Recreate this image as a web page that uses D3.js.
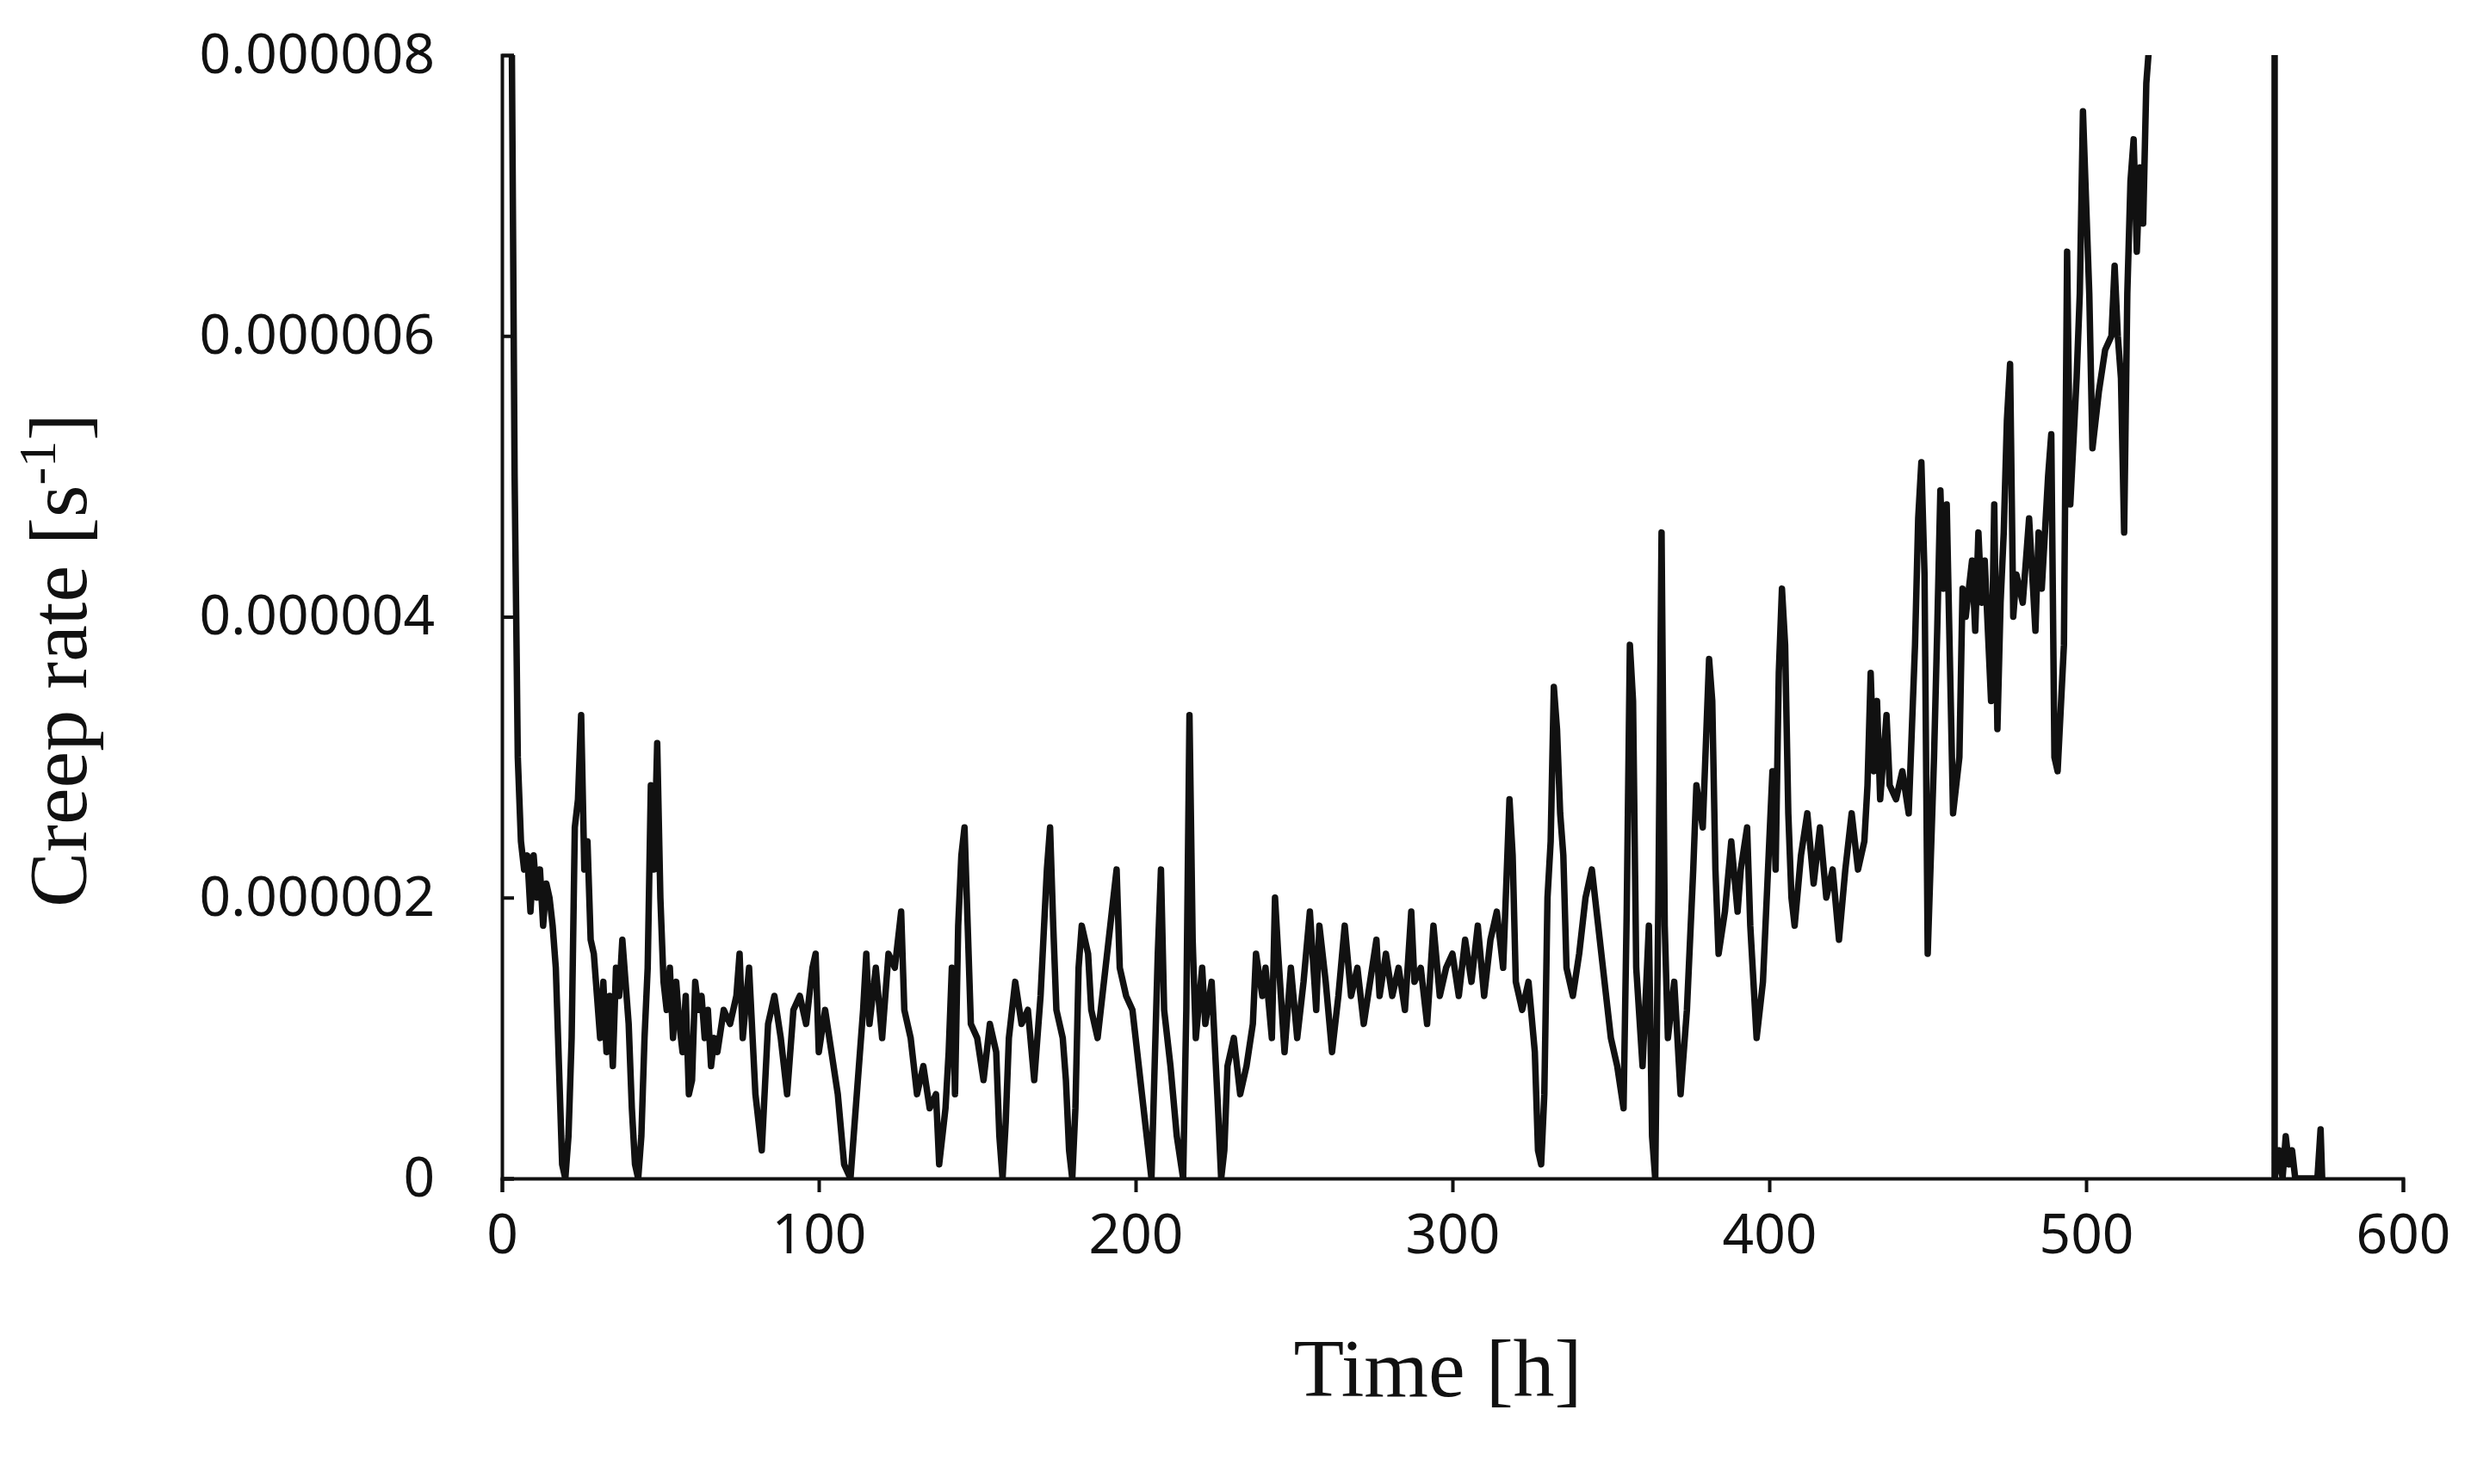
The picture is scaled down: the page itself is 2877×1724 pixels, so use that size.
<!DOCTYPE html>
<html><head><meta charset="utf-8">
<script src="https://cdn.jsdelivr.net/npm/d3@7"></script>
<style>body{margin:0;background:#fff}</style>
</head><body>
<svg id="chart" width="2877" height="1724"></svg>
<script>
// time [h]
const timeMain = [2,3,4,5,6,7,8,9,10,11,12,13,14,15,16,17,18,19,20,21,22,23,24,25,26,27,28,29,30,31,32,33,34,35,36,37,38,39,40,41,42,43,44,45,46,47,48,49,50,51,52,53,54,55,56,57,58,59,60,61,62,63,64,65,66,67,68,70,72,74,75,76,78,80,82,84,86,88,90,92,94,96,98,99,100,102,104,106,108,110,112,114,115,116,118,120,122,124,126,127,129,131,133,135,137,138,140,141,142,143,144,145,146,147,148,150,152,154,156,157,158,159,160,162,164,166,168,170,172,173,174,175,177,178,179,180,181,182,183,185,186,188,190,192,194,195,197,199,201,203,205,206,207,208,209,211,213,215,216,217,218,219,221,222,224,226,227,228,229,231,233,235,237,238,240,241,243,244,245,247,249,251,253,255,257,258,260,262,264,266,268,270,272,274,276,277,279,281,283,285,287,288,290,292,294,296,298,300,302,304,306,308,310,312,314,316,318,319,320,322,324,326,327,328,329,330,331,332,333,334,335,336,338,340,342,344,346,348,350,352,354,355,356,357,358,360,362,363,364,365,366,367,368,370,372,374,376,377,379,381,382,383,384,386,388,390,391,393,394,396,398,400,401,402,403,404,405,406,407,408,410,412,414,416,418,420,422,424,426,428,430,431,432,433,434,435,437,438,440,442,444,446,447,448,449,450,452,453,454,455,456,458,460,461,462,464,465,466,467,468,470,471,472,473,474,475,476,477,478,480,482,484,485,486,488,489,490,491,493,494,495,497,498,499,501,502,504,506,508,509,510,511,512,513,514,515,516,517,518,519,520,521];
// creep rate [1e-6 s^-1]
const rateMain = [8.5,8.5,5,3,2.4,2.2,2.3,1.9,2.3,2.0,2.2,1.8,2.1,2.0,1.8,1.5,0.8,0.1,0,0.3,1.0,2.5,2.7,3.3,2.2,2.4,1.7,1.6,1.3,1.0,1.4,0.9,1.3,0.8,1.5,1.3,1.7,1.4,1.1,0.5,0.1,0,0.3,1.0,1.5,2.8,2.2,3.1,2.0,1.4,1.2,1.5,1.0,1.4,1.1,0.9,1.3,0.6,0.7,1.4,1.2,1.3,1.0,1.2,0.8,1.0,0.9,1.2,1.1,1.3,1.6,1.0,1.5,0.6,0.2,1.1,1.3,1.0,0.6,1.2,1.3,1.1,1.5,1.6,0.9,1.2,0.9,0.6,0.1,0,0.6,1.2,1.6,1.1,1.5,1.0,1.6,1.5,1.9,1.2,1.0,0.6,0.8,0.5,0.6,0.1,0.5,0.9,1.5,0.6,1.8,2.3,2.5,1.8,1.1,1.0,0.7,1.1,0.9,0.3,0,0.4,1.0,1.4,1.1,1.2,0.7,1.3,2.2,2.5,1.8,1.2,1.0,0.7,0.2,0,0.5,1.5,1.8,1.6,1.2,1.0,1.4,1.8,2.2,1.5,1.3,1.2,0.8,0.4,0,0.8,1.6,2.2,1.2,0.8,0.3,0,1.2,3.3,1.7,1.0,1.5,1.1,1.4,0.5,0,0.2,0.8,1.0,0.6,0.8,1.1,1.6,1.3,1.5,1.0,2.0,1.6,0.9,1.5,1.0,1.4,1.9,1.2,1.8,1.4,0.9,1.3,1.8,1.3,1.5,1.1,1.4,1.7,1.3,1.6,1.3,1.5,1.2,1.9,1.4,1.5,1.1,1.8,1.3,1.5,1.6,1.3,1.7,1.4,1.8,1.3,1.7,1.9,1.5,2.7,2.3,1.4,1.2,1.4,0.9,0.2,0.1,0.6,2.0,2.4,3.5,3.2,2.6,2.3,1.5,1.3,1.6,2.0,2.2,1.8,1.4,1.0,0.8,0.5,1.9,3.8,3.4,1.5,0.8,1.8,0.3,0,2.0,4.6,1.8,1.0,1.4,0.6,1.2,2.2,2.8,2.5,3.7,3.4,2.2,1.6,1.9,2.4,1.9,2.2,2.5,1.8,1.0,1.4,2.4,2.9,2.2,3.6,4.2,3.8,2.6,2.0,1.8,2.3,2.6,2.1,2.5,2.0,2.2,1.7,2.2,2.6,2.2,2.4,2.8,3.6,2.9,3.4,2.7,3.3,2.8,2.7,2.9,2.6,3.8,4.7,5.1,4.3,1.6,3.0,3.9,4.9,4.2,4.8,2.6,3.0,4.2,4.0,4.4,3.9,4.6,4.1,4.4,3.4,4.8,3.2,4.1,4.6,5.4,5.8,4.0,4.3,4.1,4.7,3.9,4.6,4.2,5.0,5.3,3.0,2.9,3.8,6.6,4.8,5.7,6.3,7.6,6.3,5.2,5.6,5.9,6.0,6.5,6.0,5.7,4.6,6.3,7.1,7.4,6.6,7.2,6.8,7.8,8.1,8.6];
const timeTail = [559.5,559.5,561,562,563,564,565,566,573,574,574.5];
const rateTail = [9,0,0.2,0,0.3,0.1,0.2,0,0,0.35,0];
const xTicks = [0,100,200,300,400,500,600];
const yTicks = [0,2e-6,4e-6,6e-6,8e-6];

const svg = d3.select('#chart');
const plotLeft = 583, plotRight = 2791, plotTop = 64, plotBottom = 1369;
const x = d3.scaleLinear().domain([0, 600]).range([plotLeft, plotRight]);
const y = d3.scaleLinear().domain([0, 8e-6]).range([plotBottom, plotTop]);

svg.append('defs').append('clipPath').attr('id', 'plot')
    .append('rect').attr('x', plotLeft).attr('y', plotTop)
    .attr('width', plotRight - plotLeft + 10).attr('height', plotBottom - plotTop);

const line = d3.line().x(d => x(d[0])).y(d => y(d[1] * 1e-6));
[d3.zip(timeMain, rateMain), d3.zip(timeTail, rateTail)].forEach(series => {
    svg.append('path').datum(series)
        .attr('clip-path', 'url(#plot)')
        .attr('fill', 'none').attr('stroke', '#111').attr('stroke-width', 7.5)
        .attr('stroke-linejoin', 'round')
        .attr('d', line);
});

// axes
const xAxis = svg.append('g').attr('transform', `translate(0,${plotBottom})`)
    .call(d3.axisBottom(x).tickValues(xTicks).tickSize(16).tickPadding(26));
const yAxis = svg.append('g').attr('transform', `translate(${plotLeft},0)`)
    .call(d3.axisLeft(y).tickValues(yTicks).tickSize(-14).tickPadding(78)
        .tickFormat(d => d === 0 ? '0' : d.toFixed(6)));
[xAxis, yAxis].forEach(a => {
    a.select('.domain').attr('stroke', '#111').attr('stroke-width', 4);
    a.selectAll('.tick line').attr('stroke', '#111').attr('stroke-width', 4);
    a.selectAll('text').attr('font-family', 'Noto Sans').attr('font-size', 64).attr('fill', '#111');
});

svg.append('text').attr('x', 1670).attr('y', 1622).attr('text-anchor', 'middle')
    .attr('font-family', 'Liberation Serif').attr('font-size', 96).attr('fill', '#111')
    .text('Time [h]');
const yt = svg.append('text').attr('transform', 'translate(100,767) rotate(-90)')
    .attr('text-anchor', 'middle')
    .attr('font-family', 'Liberation Serif').attr('font-size', 96).attr('fill', '#111');
yt.append('tspan').text('Creep rate [s');
yt.append('tspan').attr('dy', -36).attr('font-size', 62).text('-1');
yt.append('tspan').attr('dy', 36).text(']');
</script>
</body></html>
